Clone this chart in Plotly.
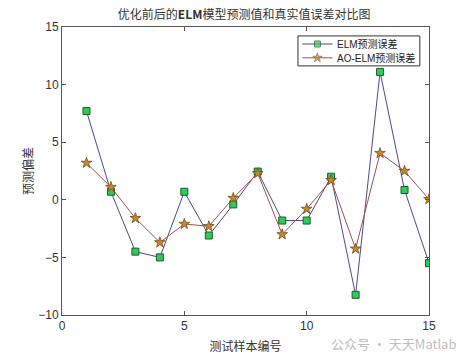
import plotly.graph_objects as go

x_idx = list(range(1, 16))
elm_err = [7.7, 0.7, -4.5, -5.0, 0.7, -3.1, -0.4, 2.45, -1.8, -1.8, 2.0, -8.25, 11.1, 0.85, -5.5]
aoelm_err = [3.2, 1.1, -1.6, -3.7, -2.1, -2.3, 0.15, 2.3, -3.0, -0.8, 1.7, -4.25, 4.05, 2.5, 0.05]
series_names = ["ELM预测误差", "AO-ELM预测误差"]
x_ticks = [0, 5, 10, 15]
y_ticks = [-10, -5, 0, 5, 10, 15]

line_colors = ["#4a4a8c", "#a05050"]
markers = [
    dict(symbol="square", size=7, color="#2ecc5a", line=dict(color="#1f5a2a", width=1)),
    dict(symbol="star", size=8, color="#c08a2e", line=dict(color="#7a4a1a", width=0.8)),
]
leg_markers = [
    dict(symbol="square", size=6, color="#2ecc5a", line=dict(color="#1f5a2a", width=1)),
    dict(symbol="star", size=7, color="#c08a2e", line=dict(color="#7a4a1a", width=0.8)),
]

fig = go.Figure()
for name, ys, lc, mk in zip(series_names, [elm_err, aoelm_err], line_colors, markers):
    fig.add_trace(go.Scatter(x=x_idx, y=ys, mode="lines+markers", name=name,
                             line=dict(color=lc, width=1), marker=mk, showlegend=False))

# manual compact legend on an overlay axis (fractions of the plot area)
bx0, bx1, by0, by1 = 0.643, 0.975, 0.865, 0.969
fig.add_trace(go.Scatter(x=[bx0, bx1, bx1, bx0, bx0], y=[by0, by0, by1, by1, by0],
                         mode="lines", fill="toself", fillcolor="white",
                         line=dict(color="#333333", width=1), xaxis="x2", yaxis="y2",
                         showlegend=False, hoverinfo="skip"))
row_y = [0.941, 0.893]
for name, ry, lc, mk in zip(series_names, row_y, line_colors, leg_markers):
    mk2 = dict(mk)
    mk2["size"] = [0, mk["size"], 0]
    fig.add_trace(go.Scatter(x=[0.655, 0.696, 0.737], y=[ry, ry, ry], mode="lines+markers",
                             line=dict(color=lc, width=1), marker=mk2, xaxis="x2", yaxis="y2",
                             showlegend=False, hoverinfo="skip"))
    fig.add_annotation(text=name, xref="paper", yref="paper", x=0.745, y=ry,
                       xanchor="left", yanchor="middle", showarrow=False,
                       font=dict(family="Liberation Sans, Noto Sans CJK SC", size=10, color="#222222"))

axis_common = dict(
    showline=True, linecolor="#555555", linewidth=1, mirror="ticks",
    ticks="inside", ticklen=4, tickcolor="#555555", showgrid=False, zeroline=False,
    automargin=False,
    tickfont=dict(family="Liberation Sans, Arial", size=12, color="#333333"),
)
fig.update_xaxes(range=[0, 15], tickvals=x_ticks, **axis_common,
                 title=dict(text="测试样本编号", font=dict(family="Noto Sans CJK SC", size=12, color="#333333"), standoff=10))
fig.update_yaxes(range=[-10, 15], tickvals=y_ticks, **axis_common,
                 title=dict(text="预测偏差", font=dict(family="Noto Sans CJK SC", size=12, color="#333333"), standoff=2))

fig.update_layout(
    width=474, height=355,
    margin=dict(l=62, r=45, t=27, b=40),
    paper_bgcolor="white", plot_bgcolor="white",
    xaxis2=dict(overlaying="x", range=[0, 1], visible=False, fixedrange=True),
    yaxis2=dict(overlaying="y", range=[0, 1], visible=False, fixedrange=True),
    title=dict(text="优化前后的<b>ELM</b>模型预测值和真实值误差对比图", x=0.515, xanchor="center", y=0.957, yanchor="middle",
               font=dict(family="Noto Sans CJK SC", size=12, color="#333333")),
    showlegend=False,
)
fig.add_annotation(text="公众号 · 天天Matlab", xref="paper", yref="paper", x=1.079, y=-0.098,
                   xanchor="right", yanchor="middle", showarrow=False,
                   font=dict(family="Noto Sans CJK SC", size=13, color="#c0c0c0"))

fig.write_html("out.html", config={"displayModeBar": False},
               post_script="document.body.style.margin='0px';")
